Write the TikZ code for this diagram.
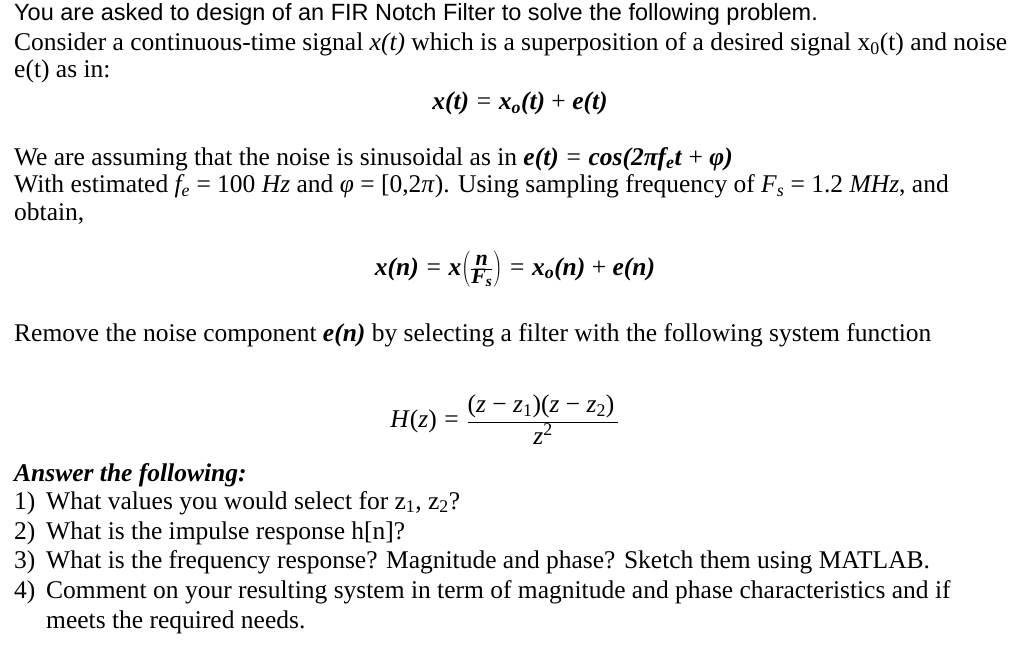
\documentclass[tikz,border=0pt]{standalone}
\usepackage{fontspec}
\setmainfont{Liberation Serif}
\setsansfont{Liberation Sans}
\newcommand{\bi}[1]{\textbf{\textit{#1}}}
\newcommand{\eqs}{\hspace{0.3em}=\hspace{0.3em}}
\newcommand{\pls}{\hspace{0.25em}+\hspace{0.25em}}
\begin{document}
\begin{tikzpicture}[x=1pt,y=1pt,
  every node/.style={inner sep=0pt,font=\fontsize{25.5}{30}\selectfont},
  txt/.style={anchor=base west}]
\useasboundingbox (0,0) rectangle (1024,-655);
\node[txt,font=\sffamily\fontsize{23.5}{28}\selectfont] (l1) at (14,-21) {You are asked to design of an FIR Notch Filter to solve the following problem.};
\node[txt] (l2) at (14,-51) {Consider a continuous-time signal \textit{x(t)} which is a superposition of a desired signal x\textsubscript{0}(t) and noise};
\node[txt] (l3) at (14,-78) {e(t) as in:};
\node[anchor=base] (e1) at (520,-110) {\bi{x(t)}\eqs\bi{x\textsubscript{o}(t)}\pls\bi{e(t)}};
\node[txt] (l5) at (14,-165) {We are assuming that the noise is sinusoidal as in \bi{e(t)}\eqs\bi{cos(2πf\textsubscript{e}t}\pls\bi{φ)}};
\node[txt] (l6) at (14,-193) {With estimated \textit{f\textsubscript{e}} = 100 \textit{Hz} and \textit{φ} = [0,2\textit{π}). Using sampling frequency of \textit{F\textsubscript{s}} = 1.2 \textit{MHz}, and};
\node[txt] (l7) at (14,-220) {obtain,};
\node[anchor=base] (e2) at (515,-275) {\bi{x(n)}\eqs\bi{x}$\left(\frac{\hbox{\fontsize{22}{24}\selectfont\bi{n}}}{\hbox{\fontsize{22}{24}\selectfont\bi{F\textsubscript{s}}}}\right)$\eqs\bi{x\textsubscript{o}(n)}\pls\bi{e(n)}};
\node[txt] (l9) at (14,-341) {Remove the noise component \bi{e(n)} by selecting a filter with the following system function};
\node[anchor=base] (e3) at (505,-427) {\textit{H}(\textit{z})\eqs\raisebox{-0.15ex}{$\frac{\hbox{\fontsize{25.5}{30}\selectfont\strut(\textit{z} − \textit{z}\textsubscript{1})(\textit{z} − \textit{z}\textsubscript{2})\kern4pt}}{\hbox{\fontsize{25.5}{30}\selectfont\strut\textit{z}\textsuperscript{2}}}$}};
\node[txt] (l11) at (14,-481) {\bi{Answer the following:}};
\foreach \n/\y/\t in {1/509/{What values you would select for z\textsubscript{1}, z\textsubscript{2}?},
  2/539/{What is the impulse response h[n]?},
  3/568/{What is the frequency response? Magnitude and phase? Sketch them using MATLAB.},
  4/598/{Comment on your resulting system in term of magnitude and phase characteristics and if}}
  {\node[txt] (n\n) at (14,-\y) {\n)}; \node[txt] (t\n) at (46,-\y) {\t};}
\node[txt] (t5) at (46,-628) {meets the required needs.};
\end{tikzpicture}
\end{document}
